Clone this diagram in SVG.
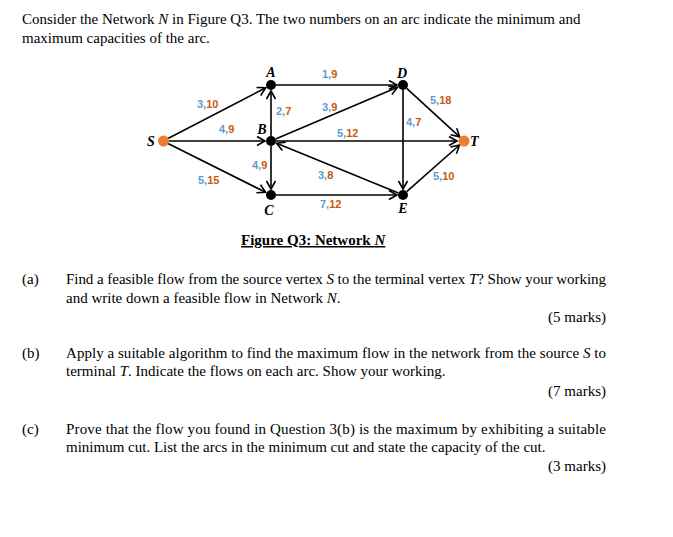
<svg xmlns="http://www.w3.org/2000/svg" width="673" height="537" viewBox="0 0 673 537">
<style>
.t{font-family:"Liberation Serif",serif;font-size:15px;fill:#000}
.n{font-family:"Liberation Serif",serif;font-size:14px;font-weight:bold;font-style:italic;fill:#000}
.l{font-family:"Liberation Sans",sans-serif;font-size:11px;font-weight:bold}
.b{fill:#5B9BD5}
.o{fill:#C55A11}
.e{stroke:#000;stroke-width:1.6;fill:none}
</style>
<defs>
<marker id="ah" markerUnits="userSpaceOnUse" markerWidth="12" markerHeight="12" viewBox="-10 -6 12 12" refX="0" refY="0" orient="auto">
<path d="M-8,-4.5 L0,0 L-8,4.5" fill="none" stroke="#000" stroke-width="1.6"/>
</marker>
</defs>
<rect width="673" height="537" fill="#fff"/>
<text class="t" x="22" y="24">Consider the Network <tspan font-style="italic">N</tspan> in Figure Q3. The two numbers on an arc indicate the minimum and</text>
<text class="t" x="22" y="43">maximum capacities of the arc.</text>

<g id="connectors">
<line class="e" x1="168" y1="138.5" x2="265.7" y2="87.8" marker-end="url(#ah)"/>
<line class="e" x1="169" y1="141" x2="265" y2="141" marker-end="url(#ah)"/>
<line class="e" x1="168" y1="143.5" x2="265.6" y2="192.3" marker-end="url(#ah)"/>
<line class="e" x1="271" y1="136" x2="271" y2="91" marker-end="url(#ah)"/>
<line class="e" x1="271" y1="146" x2="271" y2="189" marker-end="url(#ah)"/>
<line class="e" x1="276" y1="85" x2="397" y2="85" marker-end="url(#ah)"/>
<line class="e" x1="275.6" y1="139" x2="397.5" y2="87.3" marker-end="url(#ah)"/>
<line class="e" x1="276" y1="141" x2="457" y2="141" marker-end="url(#ah)"/>
<line class="e" x1="398.4" y1="193.1" x2="276.6" y2="143.3" marker-end="url(#ah)"/>
<line class="e" x1="276" y1="195" x2="397" y2="195" marker-end="url(#ah)"/>
<line class="e" x1="403" y1="90" x2="403" y2="189" marker-end="url(#ah)"/>
<line class="e" x1="406.7" y1="88.4" x2="459.6" y2="136.9" marker-end="url(#ah)"/>
<line class="e" x1="406.7" y1="191.7" x2="459.5" y2="145" marker-end="url(#ah)"/>
</g>

<g id="labels">
<text class="l" x="197" y="108"><tspan class="b">3,</tspan><tspan class="o">10</tspan></text>
<text class="l" x="219" y="133"><tspan class="b">4,</tspan><tspan class="o">9</tspan></text>
<text class="l" x="198" y="184"><tspan class="b">5,</tspan><tspan class="o">15</tspan></text>
<text class="l" x="276" y="115"><tspan class="b">2,</tspan><tspan class="o">7</tspan></text>
<text class="l" x="252" y="169"><tspan class="b">4,</tspan><tspan class="o">9</tspan></text>
<text class="l" x="322" y="78"><tspan class="b">1,</tspan><tspan class="o">9</tspan></text>
<text class="l" x="322" y="111"><tspan class="b">3,</tspan><tspan class="o">9</tspan></text>
<text class="l" x="337" y="137"><tspan class="b">5,</tspan><tspan class="o">12</tspan></text>
<text class="l" x="318" y="179"><tspan class="b">3,</tspan><tspan class="o">8</tspan></text>
<text class="l" x="320" y="208"><tspan class="b">7,</tspan><tspan class="o">12</tspan></text>
<text class="l" x="406" y="126"><tspan class="b">4,</tspan><tspan class="o">7</tspan></text>
<text class="l" x="430" y="104"><tspan class="b">5,</tspan><tspan class="o">18</tspan></text>
<text class="l" x="433" y="180"><tspan class="b">5,</tspan><tspan class="o">10</tspan></text>
</g>

<g id="node-S"><circle cx="163.5" cy="141" r="5.5" fill="#ED7D31"/><text class="n" x="151" y="146" text-anchor="middle">S</text></g>
<g id="node-A"><circle cx="271" cy="85" r="5" fill="#000"/><text class="n" x="271" y="77" text-anchor="middle">A</text></g>
<g id="node-B"><circle cx="271" cy="141" r="5" fill="#000"/><text class="n" x="262" y="134" text-anchor="middle">B</text></g>
<g id="node-C"><circle cx="271" cy="195" r="5" fill="#000"/><text class="n" x="269" y="215" text-anchor="middle">C</text></g>
<g id="node-D"><circle cx="403" cy="85" r="5" fill="#000"/><text class="n" x="402" y="78" text-anchor="middle">D</text></g>
<g id="node-E"><circle cx="403" cy="195" r="5" fill="#000"/><text class="n" x="403" y="213" text-anchor="middle">E</text></g>
<g id="node-T"><circle cx="464" cy="141" r="5.5" fill="#ED7D31"/><text class="n" x="470" y="146">T</text></g>

<text class="t" x="241" y="245" font-weight="bold" font-size="14" text-decoration="underline">Figure Q3: Network <tspan font-style="italic">N</tspan></text>

<text class="t" x="22" y="284">(a)</text>
<text class="t" x="66" y="284" textLength="540" lengthAdjust="spacing">Find a feasible flow from the source vertex <tspan font-style="italic">S</tspan> to the terminal vertex <tspan font-style="italic">T</tspan>? Show your working</text>
<text class="t" x="66" y="303">and write down a feasible flow in Network <tspan font-style="italic">N</tspan>.</text>
<text class="t" x="606" y="322" text-anchor="end">(5 marks)</text>

<text class="t" x="22" y="358">(b)</text>
<text class="t" x="66" y="358" textLength="540" lengthAdjust="spacing">Apply a suitable algorithm to find the maximum flow in the network from the source <tspan font-style="italic">S</tspan> to</text>
<text class="t" x="66" y="376">terminal <tspan font-style="italic">T</tspan>. Indicate the flows on each arc. Show your working.</text>
<text class="t" x="606" y="396" text-anchor="end">(7 marks)</text>

<text class="t" x="22" y="434">(c)</text>
<text class="t" x="66" y="434" textLength="540" lengthAdjust="spacing">Prove that the flow you found in Question 3(b) is the maximum by exhibiting a suitable</text>
<text class="t" x="66" y="452">minimum cut. List the arcs in the minimum cut and state the capacity of the cut.</text>
<text class="t" x="606" y="471" text-anchor="end">(3 marks)</text>
</svg>
